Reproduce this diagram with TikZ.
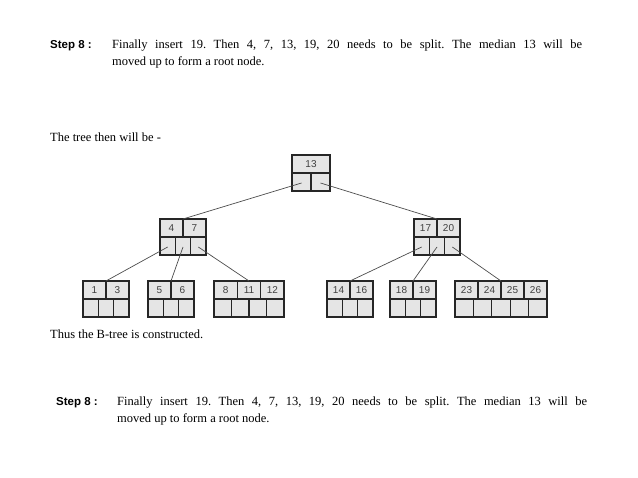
\documentclass[tikz,border=0pt]{standalone}
\usepackage{fontspec}
\setmainfont{Liberation Serif}
\newfontfamily\arialf{Liberation Sans}
\frenchspacing
\tikzset{
  cellbox/.style={draw=black!85,line width=1.4pt,fill=black!10},
  sep/.style={draw=black!85,line width=1.2pt},
  key/.style={font=\arialf\fontsize{10}{11}\selectfont,text=black!75,inner sep=0pt},
  link/.style={draw=black!70,line width=0.7pt},
  para/.style={anchor=north west,align=justify,inner sep=0pt,font=\fontsize{12.5}{16.5}\selectfont},
  steplabel/.style={anchor=north west,inner sep=0pt,font=\arialf\bfseries\fontsize{11.5}{16.5}\selectfont}
}
\newcommand\bnode[6]{%
  \pgfmathsetmacro\kw{#4/#5}\pgfmathsetmacro\pw{#4/(#5+1)}%
  \draw[cellbox] (#2,#3) rectangle ++(#4,36);
  \draw[sep] (#2,#3+18) -- ++(#4,0);
  \foreach \k [count=\i] in {#6} {
    \node[key] (#1-k\i) at ({#2+(\i-0.5)*\kw},#3+9) {\k};
  }
  \pgfmathtruncatemacro\nm{#5-1}
  \ifnum\nm>0 \foreach \i in {1,...,\nm} {\draw[sep] ({#2+\i*\kw},#3) -- ++(0,18);}\fi
  \foreach \i in {1,...,#5} {\draw[sep] ({#2+\i*\pw},#3+18) -- ++(0,18);}
  \pgfmathtruncatemacro\np{#5+1}
  \foreach \i in {1,...,\np} {\coordinate (#1-p\i) at ({#2+(\i-0.5)*\pw},#3+28);}
  \coordinate (#1-top) at ({#2+#4/2},#3);
}
\begin{document}
\begin{tikzpicture}[x=1pt,y=-1pt]
\useasboundingbox (0,0) rectangle (638,478);
\node[steplabel] (s1) at (50,40) {Step 8 :};
\node[para,text width=470pt] (t1) at (112,40) {\frenchspacing Finally insert 19. Then 4, 7, 13, 19, 20 needs to be split. The median 13 will be\linebreak moved up to form a root node.\par};
\node[para] (t2) at (50,133) {The tree then will be -};
\bnode{r}{292}{155}{38}{1}{13}
\bnode{a}{160}{219}{46}{2}{4,7}
\bnode{b}{414}{219}{46}{2}{17,20}
\bnode{l1}{83}{281}{46}{2}{1,3}
\bnode{l2}{148}{281}{46}{2}{5,6}
\bnode{l3}{214}{281}{70}{3}{8,11,12}
\bnode{l4}{327}{281}{46}{2}{14,16}
\bnode{l5}{390}{281}{46}{2}{18,19}
\bnode{l6}{455}{281}{92}{4}{23,24,25,26}
\draw[link] (r-p1) -- (a-top);
\draw[link] (r-p2) -- (b-top);
\draw[link] (a-p1) -- (l1-top);
\draw[link] (a-p2) -- (l2-top);
\draw[link] (a-p3) -- (l3-top);
\draw[link] (b-p1) -- (l4-top);
\draw[link] (b-p2) -- (l5-top);
\draw[link] (b-p3) -- (l6-top);
\node[para] (t3) at (50,330) {Thus the B-tree is constructed.};
\node[steplabel] (s2) at (56,397) {Step 8 :};
\node[para,text width=470pt] (t4) at (117,397) {\frenchspacing Finally insert 19. Then 4, 7, 13, 19, 20 needs to be split. The median 13 will be\linebreak moved up to form a root node.\par};
\end{tikzpicture}
\end{document}
